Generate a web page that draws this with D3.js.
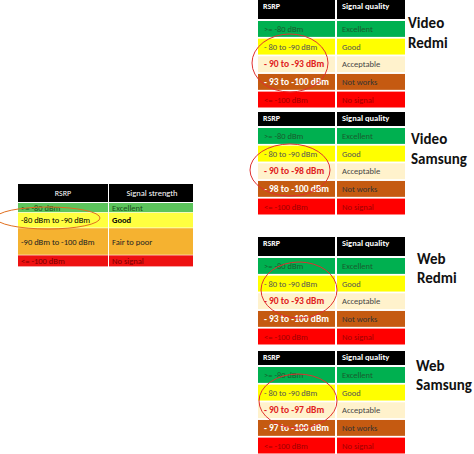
<!DOCTYPE html><html><head><meta charset="utf-8"><script src="https://cdn.jsdelivr.net/npm/d3@7"></script>
<style>body{margin:0;background:#fff}svg{display:block;font-family:Calibri,"Liberation Sans",Arial,sans-serif}</style></head><body><svg id="c" width="474" height="454"></svg>
<script>
const levels=["Excellent","Good","Acceptable","Not works","No signal"];
const videoRedmi=[">= -80 dBm","- 80 to -90 dBm","- 90 to -93 dBm","- 93 to -100 dBm","<= -100 dBm"];
const videoSamsung=[">= -80 dBm","- 80 to -90 dBm","- 90 to -98 dBm","- 98 to -100 dBm","<= -100 dBm"];
const webRedmi=[">= -80 dBm","- 80 to -90 dBm","- 90 to -93 dBm","- 93 to -100 dBm","<= -100 dBm"];
const webSamsung=[">= -80 dBm","- 80 to -90 dBm","- 90 to -97 dBm","- 97 to -100 dBm","<= -100 dBm"];
const tableTitles=[["Video","Redmi"],["Video","Samsung"],["Web","Redmi"],["Web","Samsung"]];
const leftRsrp=[">= -80 dBm","-80 dBm to -90 dBm","-90 dBm to -100 dBm","<= -100 dBm"];
const leftStrength=["Excellent","Good","Fair to poor","No signal"];
const leftWeights=[1,1.6,2.8,1.2];

const svg=d3.select("#c");
const fills=["#00b050","#ffff00","#fff2cc","#c55a11","#ff0000"];
const textCol=["#1a5c2e","#555","#e02020","#fff","#a00000"];
const tops=[0,112,237,351];
const x=d3.scaleOrdinal().domain(["rsrp","q"]).range([258,337]);
const w={rsrp:77,q:68};
[videoRedmi,videoSamsung,webRedmi,webSamsung].forEach((rows,t)=>{
  const y0=tops[t], hh=t%2?14:19;
  const g=svg.append("g");
  g.append("rect").attr("x",258).attr("y",y0).attr("width",77).attr("height",hh).attr("fill","#000");
  g.append("rect").attr("x",337).attr("y",y0).attr("width",68).attr("height",hh).attr("fill","#000");
  g.append("text").attr("x",263).attr("y",y0+9).attr("fill","#fff").attr("font-size",8).attr("font-weight","bold").text("RSRP");
  g.append("text").attr("x",342).attr("y",y0+9).attr("fill","#fff").attr("font-size",8.5).attr("font-weight","bold").text("Signal quality");
  const y=d3.scaleBand().domain(d3.range(5)).range([y0+hh+2,y0+hh+2+86.5]).paddingInner(0.1);
  rows.forEach((r,i)=>{
    g.append("rect").attr("x",258).attr("y",y(i)).attr("width",77).attr("height",y.bandwidth()).attr("fill",fills[i]);
    g.append("rect").attr("x",337).attr("y",y(i)).attr("width",68).attr("height",y.bandwidth()).attr("fill",fills[i]);
    const bold=i==2||i==3;
    g.append("text").attr("x",264).attr("y",y(i)+y.bandwidth()/2+3).attr("font-size",bold?9.5:8.5).attr("font-weight",bold?"bold":"normal").attr("fill",textCol[i]).text(r);
    g.append("text").attr("x",342).attr("y",y(i)+y.bandwidth()/2+3).attr("font-size",8.5).attr("fill",i==2?"#444":textCol[i]==="#fff"?"#333":textCol[i]).text(levels[i]);
  });
  const lx=[408,411,417,416][t], ly=[[28,48],[144,164],[264,283],[371,390]][t];
  tableTitles[t].forEach((s,k)=>svg.append("text").attr("x",lx).attr("y",ly[k]).attr("font-size",15).attr("font-weight","bold").attr("fill","#111").text(s));
});
[[290,63,38,29],[290,170,40,26],[299,290,38,28],[298,401,39,27]].forEach(e=>svg.append("ellipse").attr("cx",e[0]).attr("cy",e[1]).attr("rx",e[2]).attr("ry",e[3]).attr("fill","none").attr("stroke","#e03030").attr("stroke-width",1));
// left table
const lf=["#5cc45c","#ffff40","#f5b230","#ee1111"];
const lt=["#1a4d1a","#000","#222","#7a0000"];
svg.append("rect").attr("x",18).attr("y",184).attr("width",90).attr("height",18).attr("fill","#000");
svg.append("rect").attr("x",109).attr("y",184).attr("width",84).attr("height",18).attr("fill","#000");
svg.append("text").attr("x",63).attr("y",196).attr("text-anchor","middle").attr("fill","#fff").attr("font-size",8).text("RSRP");
svg.append("text").attr("x",152).attr("y",196).attr("text-anchor","middle").attr("fill","#fff").attr("font-size",8.5).text("Signal strength");
const cum=[0];leftWeights.forEach(v=>cum.push(cum[cum.length-1]+v));
const ly=d3.scaleLinear().domain([0,cum[4]]).range([203,267]);
leftRsrp.forEach((r,i)=>{
  const a=ly(cum[i]),b=ly(cum[i+1]);
  svg.append("rect").attr("x",18).attr("y",a).attr("width",90).attr("height",b-a-0.6).attr("fill",lf[i]);
  svg.append("rect").attr("x",109).attr("y",a).attr("width",84).attr("height",b-a-0.6).attr("fill",lf[i]);
  svg.append("text").attr("x",21).attr("y",(a+b)/2+3).attr("font-size",8.5).attr("fill",lt[i]).text(r);
  svg.append("text").attr("x",112).attr("y",(a+b)/2+3).attr("font-size",8.5).attr("font-weight",i==1?"bold":"normal").attr("fill",lt[i]).text(leftStrength[i]);
});
svg.append("ellipse").attr("cx",48).attr("cy",218).attr("rx",52).attr("ry",11).attr("fill","none").attr("stroke","#e07020").attr("stroke-width",1);
</script></body></html>
